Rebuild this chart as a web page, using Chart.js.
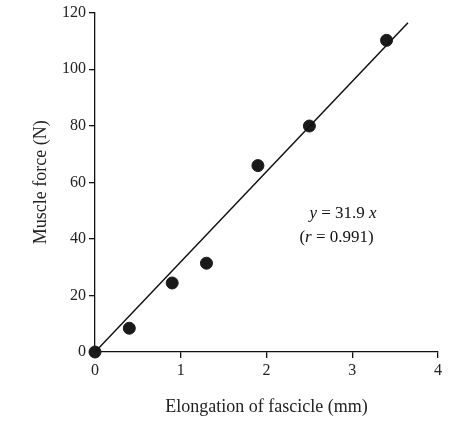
<!DOCTYPE html>
<html>
<head>
<meta charset="utf-8">
<script src="https://cdn.jsdelivr.net/npm/chart.js@4"></script>
<style>
  html, body { margin: 0; padding: 0; background: #fff; }
  #wrap { width: 474px; height: 426px; }
</style>
</head>
<body>
<div id="wrap"><canvas id="c"></canvas></div>
<script>
// elongation (mm) vs muscle force (N)
const elongation = [0, 0.4, 0.9, 1.3, 1.9, 2.5, 3.4];
const force = [0, 8.4, 24.4, 31.4, 65.9, 79.9, 110.2];
const slope = 31.9;
const fitRange = [0, 3.65];
const xTicks = [0, 1, 2, 3, 4];
const yTicks = [0, 20, 40, 60, 80, 100, 120];

const serif = '"Liberation Serif", "DejaVu Serif", serif';

// equation text placed in data coordinates
const eqLabel = {
    id: 'eqLabel',
    afterDraw(chart) {
        const { ctx, scales } = chart;
        const x = scales.x.getPixelForValue(2.5);
        ctx.save();
        ctx.fillStyle = '#111';
        ctx.textBaseline = 'middle';
        let px = x;
        let py = scales.y.getPixelForValue(49);
        ctx.font = 'italic 17px ' + serif;
        ctx.fillText('y', px, py);
        px += ctx.measureText('y').width;
        ctx.font = '17px ' + serif;
        ctx.fillText(' = 31.9 ', px, py);
        px += ctx.measureText(' = 31.9 ').width;
        ctx.font = 'italic 17px ' + serif;
        ctx.fillText('x', px, py);

        px = x - 10;
        py = scales.y.getPixelForValue(40.5);
        ctx.font = '17px ' + serif;
        ctx.fillText('(', px, py);
        px += ctx.measureText('(').width;
        ctx.font = 'italic 17px ' + serif;
        ctx.fillText('r', px, py);
        px += ctx.measureText('r').width;
        ctx.font = '17px ' + serif;
        ctx.fillText(' = 0.991)', px, py);
        ctx.restore();
    }
};

const axisCommon = {
    border: { color: '#111', width: 1.3 },
    grid: { drawOnChartArea: false, color: '#111', tickLength: 6, lineWidth: 1.3 },
    ticks: { color: '#222', font: { family: serif, size: 16 } },
    title: { display: true, color: '#222', font: { family: serif, size: 18 } }
};

new Chart(document.getElementById('c'), {
    data: {
        datasets: [
            {
                type: 'line',
                data: fitRange.map(x => ({ x: x, y: slope * x })),
                borderColor: '#111',
                borderWidth: 1.5,
                pointRadius: 0
            },
            {
                type: 'scatter',
                data: elongation.map((x, i) => ({ x: x, y: force[i] })),
                backgroundColor: '#1a1a1a',
                borderColor: '#1a1a1a',
                pointRadius: 6,
                clip: false
            }
        ]
    },
    options: {
        responsive: true,
        maintainAspectRatio: false,
        animation: false,
        layout: { padding: { top: 4, right: 36, left: 26, bottom: 4 } },
        plugins: { legend: { display: false }, tooltip: { enabled: false } },
        scales: {
            x: {
                ...axisCommon,
                type: 'linear', min: 0, max: 4,
                afterBuildTicks: s => { s.ticks = xTicks.map(v => ({ value: v })); },
                afterFit: s => { s.height = 70; },
                title: { ...axisCommon.title, text: 'Elongation of fascicle (mm)', padding: { top: 8 } }
            },
            y: {
                ...axisCommon,
                type: 'linear', min: 0, max: 120,
                afterBuildTicks: s => { s.ticks = yTicks.map(v => ({ value: v })); },
                afterFit: s => { s.width = 69; },
                title: { ...axisCommon.title, text: 'Muscle force (N)' }
            }
        }
    },
    plugins: [eqLabel]
});
</script>
</body>
</html>
